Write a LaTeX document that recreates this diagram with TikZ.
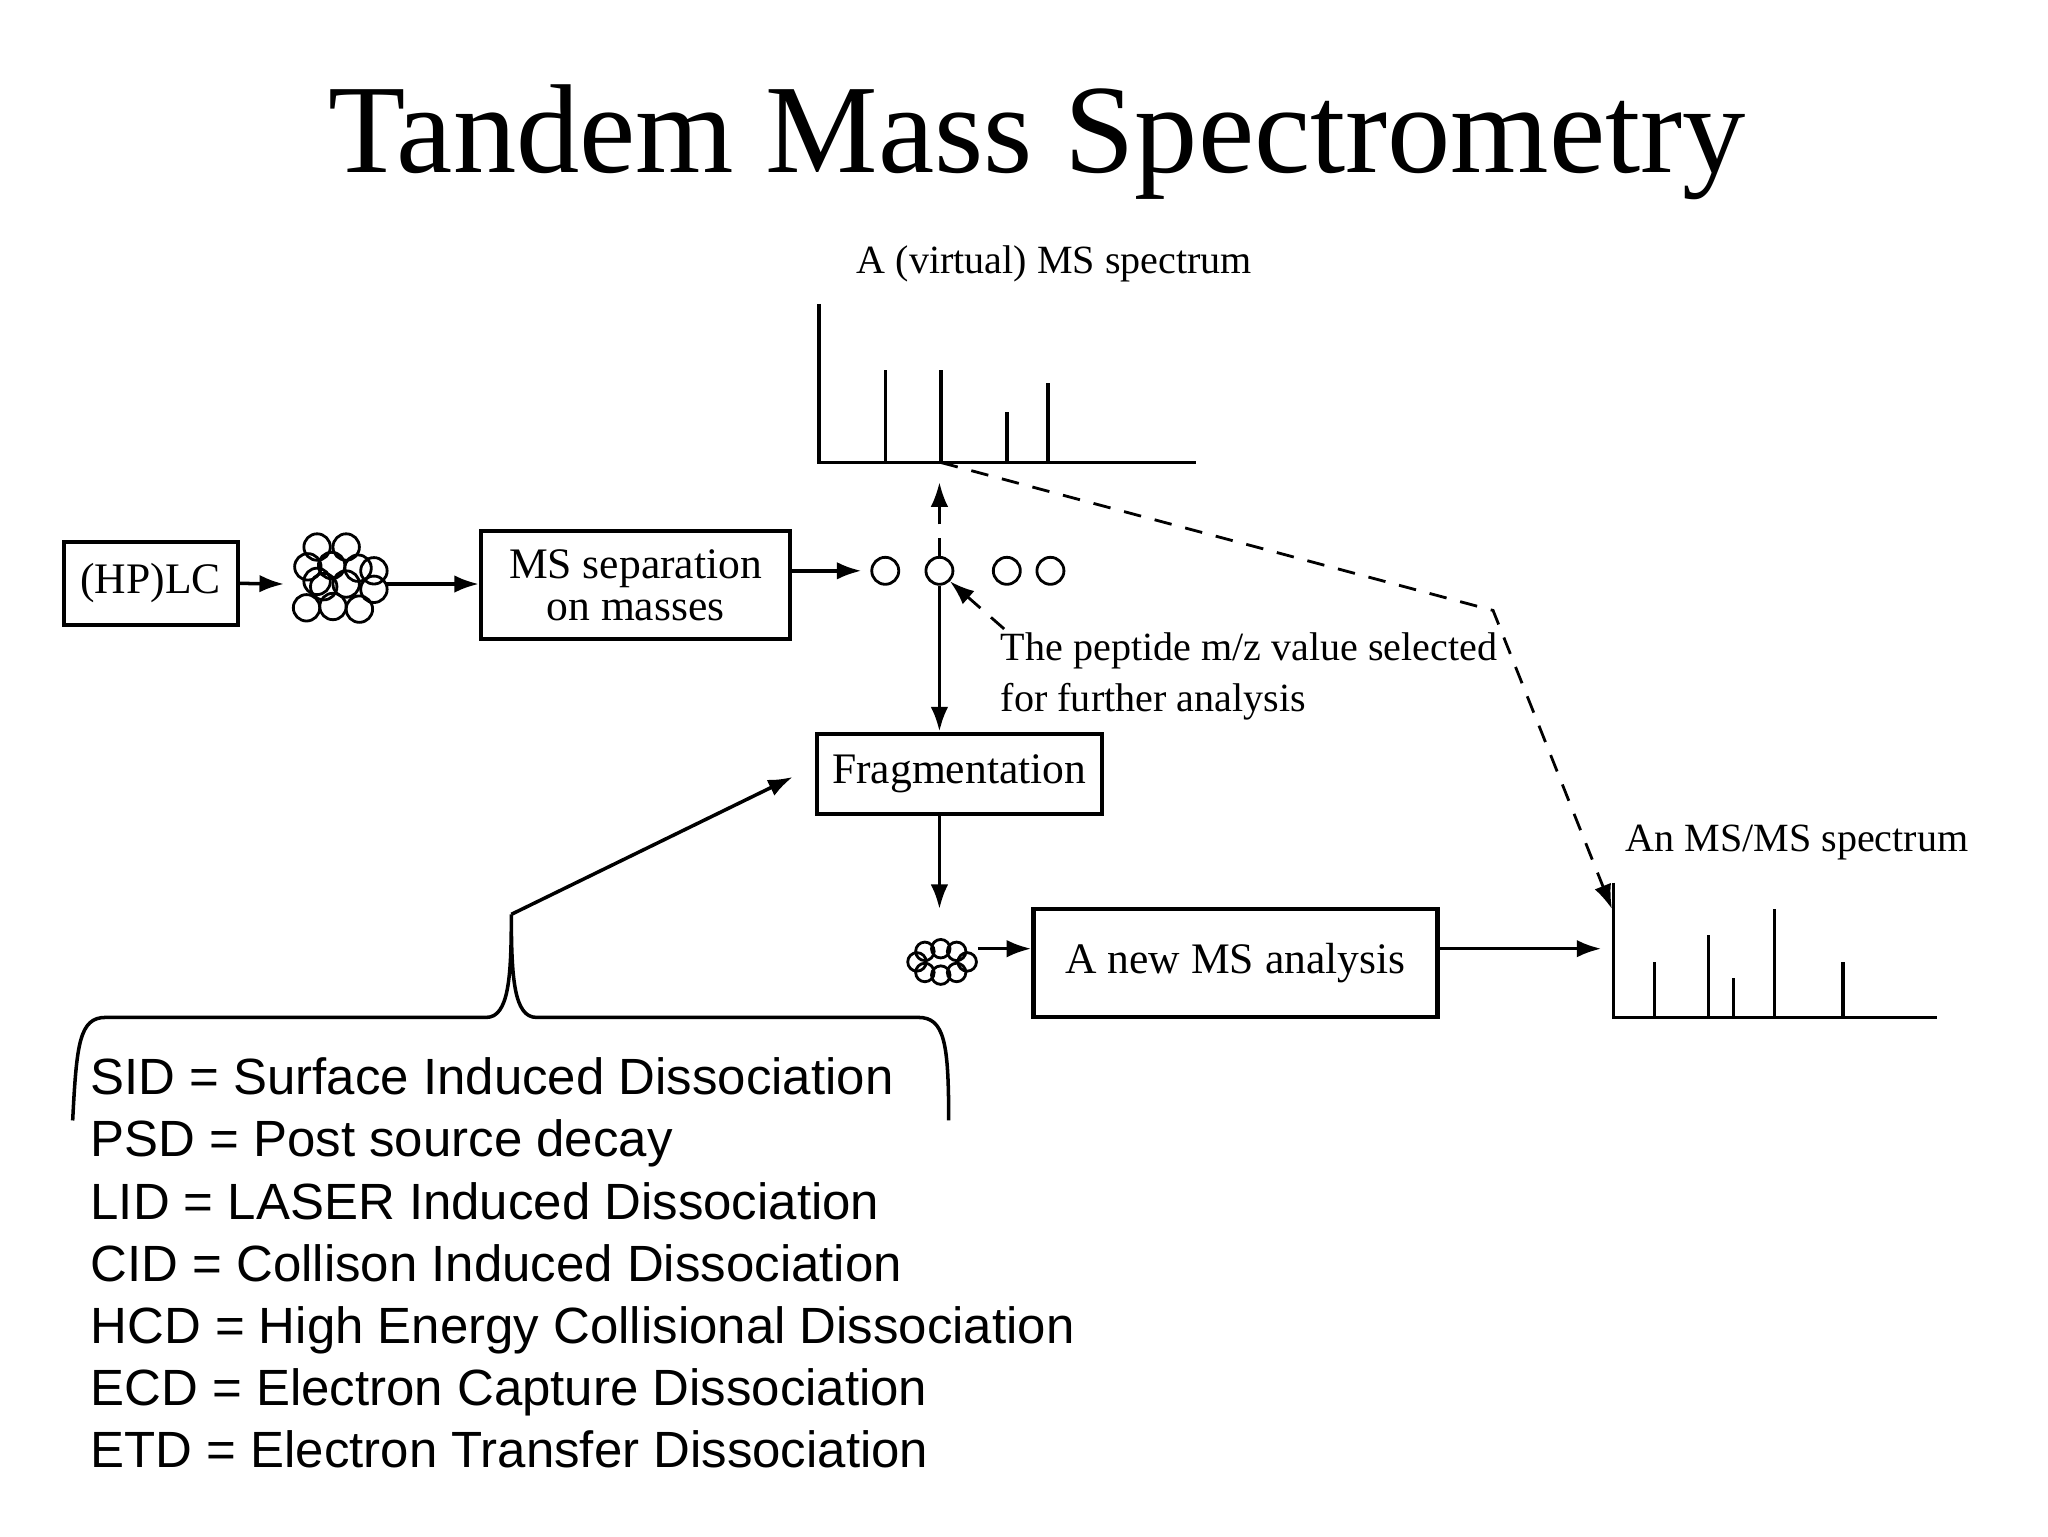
\documentclass[tikz,border=0pt]{standalone}
\usepackage{fontspec}
\setmainfont{Liberation Serif}
\newfontfamily\lsans{Liberation Sans}
\usetikzlibrary{arrows.meta}
\begin{document}
\begin{tikzpicture}[x=0.01321cm,y=-0.01321cm,
  bx/.style={draw,line width=1.2pt,font=\fontsize{12.4}{14}\selectfont},
  lbl/.style={font=\fontsize{11.4}{14.5}\selectfont,inner sep=0pt},
  arr/.style={-{Latex[length=7pt,width=5pt]},line width=1pt},
  ln/.style={line width=1pt},
  dsh/.style={line width=0.8pt,dash pattern=on 5pt off 4pt}]
\useasboundingbox (0,0) rectangle (1550,1163);
\node[font=\fontsize{36}{40}\selectfont] (title) at (785,108) {Tandem Mass Spectrometry};
\node[lbl] (vlab) at (798,200) {A (virtual) MS spectrum};
% MS spectrum
\coordinate (ax1) at (620,230); \coordinate (o1) at (620,350); \coordinate (ex1) at (905,350);
\draw[ln] (ax1) -- (o1) -- (ex1);
\foreach \x/\t in {670/280,712/280,762/312,793/290} \draw[ln] (\x,350) -- (\x,\t);
\coordinate (p2) at (712,350);
% HPLC
\node[bx,minimum width=1.74cm,minimum height=0.83cm] (lc) at (114,441.5) {(HP)LC};
\coordinate (cl) at (215,442);
\foreach \x/\y in {240/414,262/414,233/429,251/428,271/430,245/444,262/442,283/446,232/460,252/459,272/461,240/440,283/432} \draw[line width=0.8pt] (\x,\y) circle (10);
\draw[arr] (lc.east) -- (cl);
\coordinate (cr) at (292,442);
\node[bx,minimum width=3.09cm,minimum height=1.08cm,align=center] (ms) at (481,443) {MS separation\\[-2pt]on masses};
\draw[arr] (cr) -- (ms.west|-cr);
% ions
\coordinate (i0) at (652,432);
\draw[arr] (ms.east|-i0) -- (i0);
\foreach \x/\n in {670/a,711/b,762/c,795/d} \node[circle,draw,line width=0.8pt,minimum size=0.27cm,inner sep=0pt] (ion\n) at (\x,432) {};
\coordinate (up) at (711,365);
\draw[dsh,-{Latex[length=7pt,width=5pt]}] (ionb.north) -- (up);
\coordinate (bend) at (1130,462);
\coordinate (ms2tip) at (1220,688);
\draw[dsh,-{Latex[length=7pt,width=5pt]}] (p2) -- (bend) -- (ms2tip);
\node[lbl,anchor=north west,align=left] (sel) at (757,478) {The peptide m/z value selected\\for further analysis};
\draw[dsh,-{Latex[length=7pt,width=5pt]}] (760,476) -- (ionb.south east);
\node[bx,minimum width=2.85cm,minimum height=0.8cm] (frag) at (726,585.5) {Fragmentation};
\draw[arr] (ionb.south) -- (ionb.south|-frag.north);
\coordinate (fc) at (711,688);
\draw[arr] (ionb.south|-frag.south) -- (fc);
\foreach \x/\y in {700/720,712/718,724/720,700/736,712/738,724/736,732/728,694/728} \draw[line width=0.8pt] (\x,\y) circle (7);
\coordinate (fr) at (740,718);
\node[bx,minimum width=4.04cm,minimum height=1.08cm] (new) at (935,729) {A new MS analysis};
\draw[arr] (fr) -- (new.west|-fr);
\coordinate (ms2in) at (1212,718);
\draw[arr] (new.east|-ms2in) -- (ms2in);
% MS/MS spectrum
\node[lbl] (mlab) at (1360,638) {An MS/MS spectrum};
\draw[ln] (1221,668) -- (1221,770) -- (1466,770);
\foreach \x/\t in {1252/728,1293/708,1312/740,1343/688,1395/728} \draw[ln] (\x,770) -- (\x,\t);
% brace
\coordinate (tip) at (387,692);
\coordinate (fragin) at (600,588);
\draw[ln] (55,848) .. controls (58,790) and (60,770) .. (80,770) -- (368,770) .. controls (385,770) and (387,740) .. (tip)
  .. controls (387,740) and (389,770) .. (406,770) -- (695,770) .. controls (715,770) and (718,790) .. (718,848);
\draw[ln,-{Latex[length=7pt,width=5pt]}] (tip) -- (fragin);
\node[font=\lsans\fontsize{14.5}{17.7}\selectfont,anchor=north west,align=left,inner sep=0pt] (list) at (68,800) {SID = Surface Induced Dissociation\\PSD = Post source decay\\LID = LASER Induced Dissociation\\CID = Collison Induced Dissociation\\HCD = High Energy Collisional Dissociation\\ECD = Electron Capture Dissociation\\ETD = Electron Transfer Dissociation};
\end{tikzpicture}
\end{document}
